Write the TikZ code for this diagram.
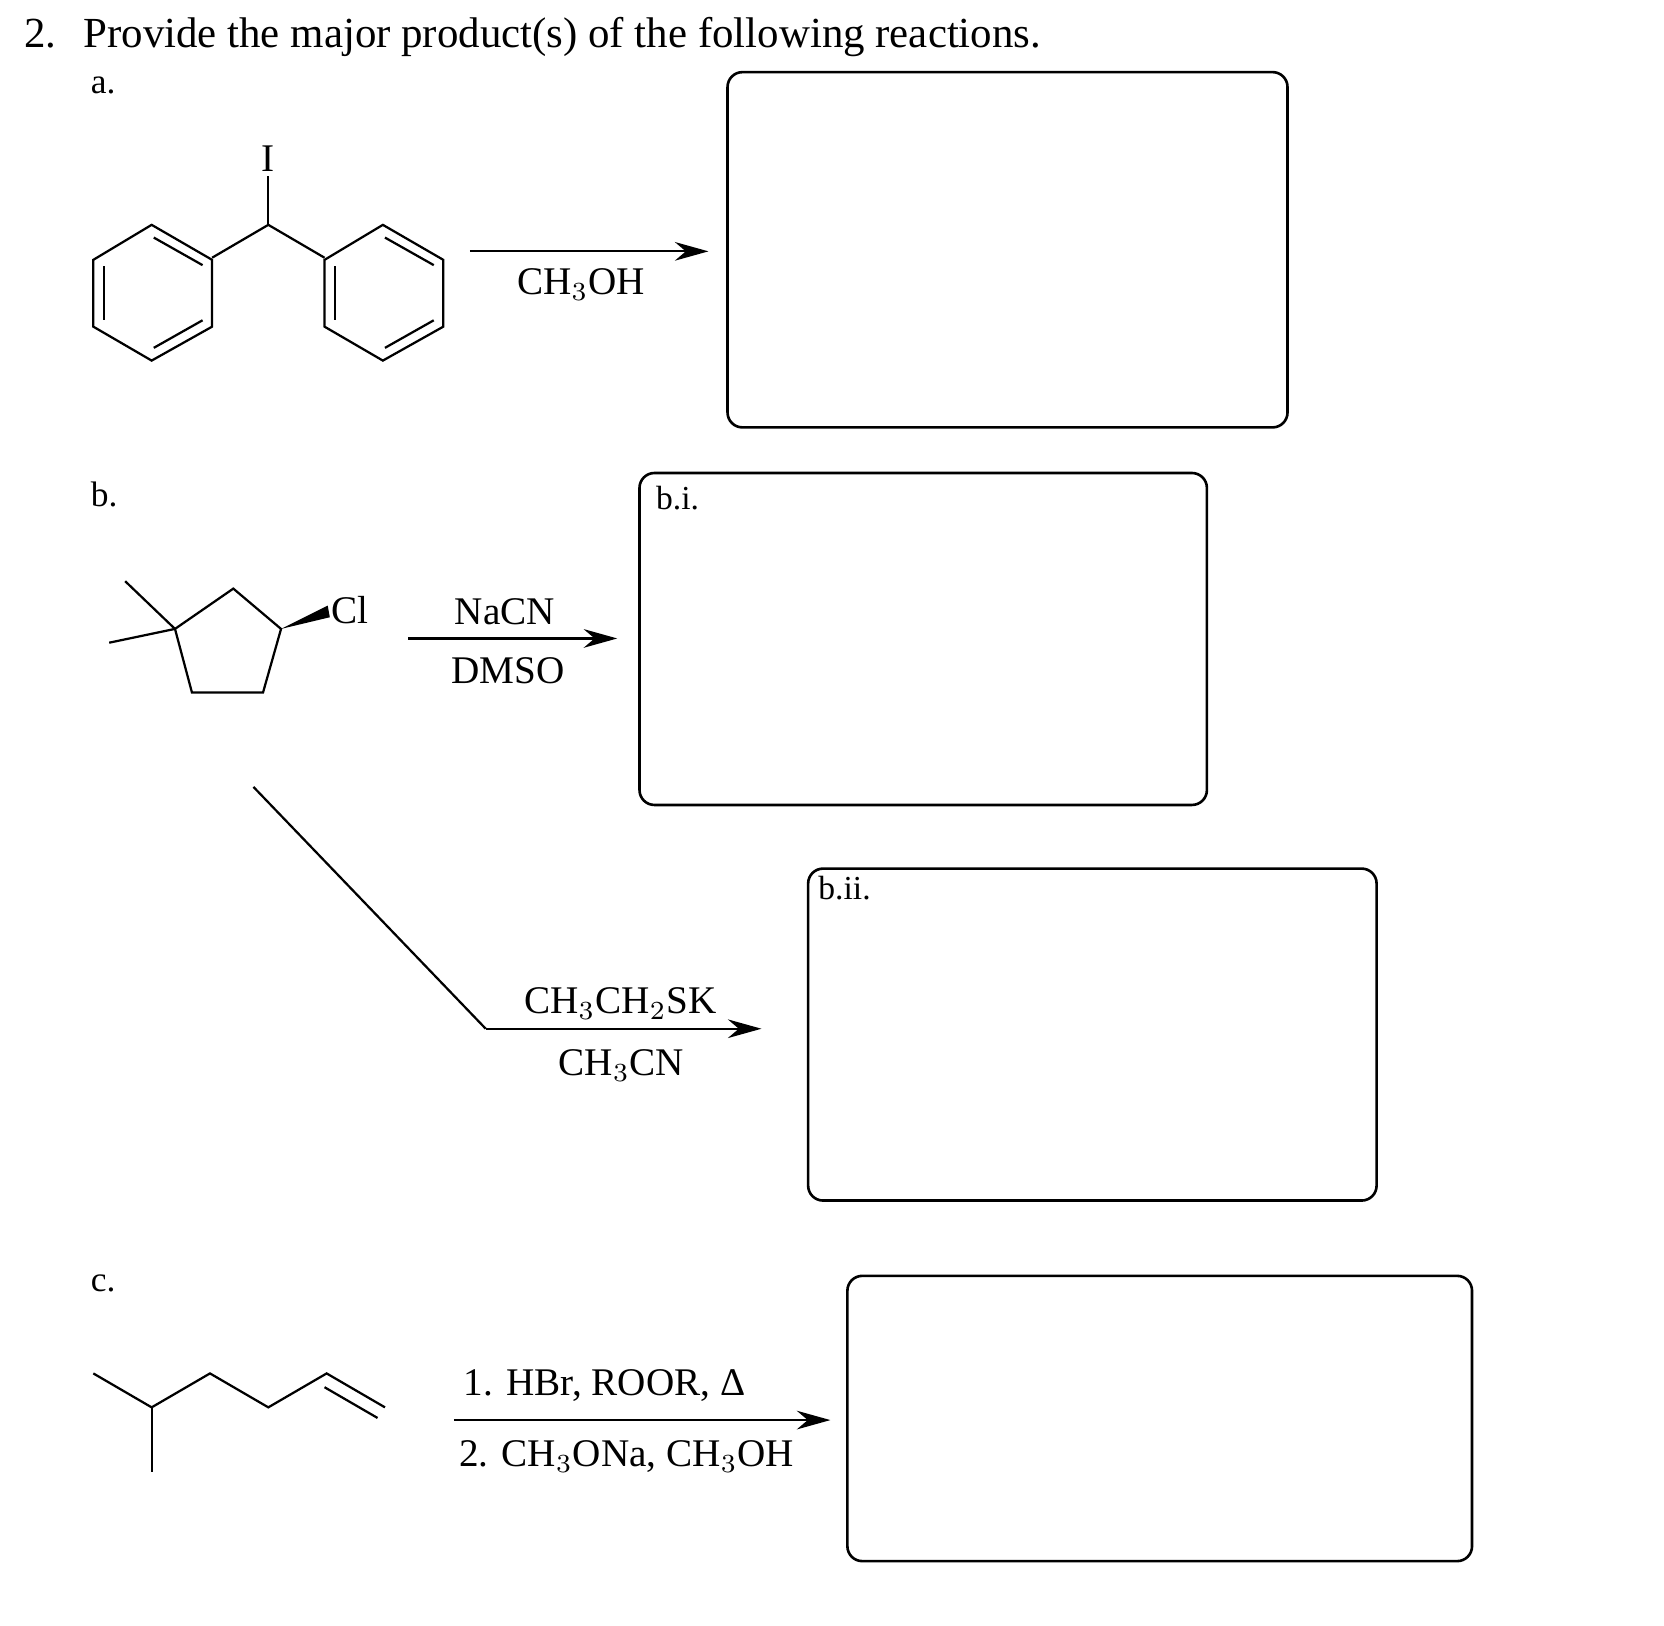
\documentclass[tikz,border=0pt]{standalone}
\usepackage{fontspec}
\setmainfont{Liberation Serif}
\usetikzlibrary{arrows.meta}
\begin{document}
\begin{tikzpicture}[x=0.01cm,y=-0.01cm,
  bond/.style={line width=0.6pt},
  ansbox/.style={draw,line width=0.7pt,rounded corners=4},
  rxn/.style={line width=0.6pt,-{Stealth[length=9pt,width=5pt]}},
  chem/.style={font=\fontsize{10.5pt}{12pt}\selectfont,inner sep=0pt},
  lbl/.style={font=\fontsize{9.5pt}{11pt}\selectfont,inner sep=0pt,anchor=base west}]
\useasboundingbox (0,0) rectangle (1569,1533);
% heading
\node[anchor=base west,inner sep=0pt,font=\fontsize{11.5pt}{13pt}\selectfont] (h2) at (22,45) {2.};
\node[anchor=base west,inner sep=0pt,font=\fontsize{11.5pt}{13pt}\selectfont] (head) at (78,45) {Provide the major product(s) of the following reactions.};
\node[lbl] (la) at (85,88) {a.};
\node[lbl] (lb) at (85,478) {b.};
\node[lbl] (lc) at (85,1218) {c.};
% boxes
\draw[ansbox] (686,68) rectangle (1214,403);
\draw[ansbox] (603,446) rectangle (1138,759);
\node[lbl,font=\fontsize{9pt}{11pt}\selectfont] (bi) at (618,480) {b.i.};
\draw[ansbox] (762,819) rectangle (1298,1132);
\node[lbl,font=\fontsize{9pt}{11pt}\selectfont] (bii) at (771,848) {b.ii.};
\draw[ansbox] (799,1203) rectangle (1388,1472);
% molecule a
\node[chem] (I) at (253,150) {I};
\coordinate (cI) at (253,212);
\draw[bond] (253,166) -- (cI);
\draw[bond] (200,243) -- (cI) -- (306,243);
\foreach \dx in {0,218}{
 \begin{scope}[xshift=\dx*0.01cm]
 \draw[bond] (143,212) -- (200,245) -- (200,308) -- (143,340) -- (88,308) -- (88,245) -- cycle;
 \draw[bond] (145,224) -- (191,250);
 \draw[bond] (98,251) -- (98,302);
 \draw[bond] (145,328) -- (191,302);
 \end{scope}}
\coordinate (a1) at (443,237); \coordinate (a2) at (668,237);
\draw[rxn] (a1) -- (a2);
\node[chem] (ra) at (548,268) {CH$_3$OH};
% molecule b
\draw[bond] (165,593) -- (220,555) -- (265,593) -- (248,653) -- (181,653) -- cycle;
\draw[bond] (165,593) -- (118,548);
\draw[bond] (165,593) -- (103,606);
\fill (265,593) -- (309,571) -- (311,582) -- cycle;
\node[chem,anchor=west] (Cl) at (312,575) {Cl};
\coordinate (b1) at (385,602); \coordinate (b2) at (582,602);
\draw[rxn] (b1) -- (b2);
\node[chem] (r1) at (476,577) {NaCN};
\node[chem] (r2) at (479,632) {DMSO};
\coordinate (c0) at (239,742); \coordinate (c1) at (458,970); \coordinate (c2) at (718,970);
\draw[bond] (c0) -- (c1);
\draw[rxn] (c1) -- (c2);
\node[chem] (r3) at (585,946) {CH$_3$CH$_2$SK};
\node[chem] (r4) at (586,1005) {CH$_3$CN};
% molecule c
\draw[bond] (88,1295) -- (143,1327) -- (198,1295) -- (253,1327) -- (308,1295) -- (363,1327);
\draw[bond] (306,1308) -- (356,1337);
\draw[bond] (143,1327) -- (143,1388);
\coordinate (d1) at (428,1339); \coordinate (d2) at (783,1339);
\draw[rxn] (d1) -- (d2);
\node[chem] (r5) at (570,1306) {1. HBr, ROOR, Δ};
\node[chem] (r6) at (591,1373) {2. CH$_3$ONa, CH$_3$OH};
\end{tikzpicture}
\end{document}
